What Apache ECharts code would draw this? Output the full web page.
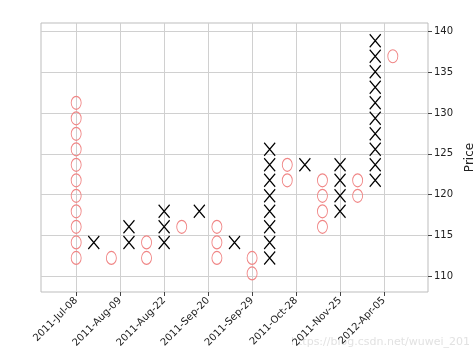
<!DOCTYPE html>
<html>
<head>
<meta charset="utf-8">
<script src="https://cdn.jsdelivr.net/npm/echarts@6/dist/echarts.min.js"></script>
<style>html,body{margin:0;padding:0;background:#fff}#c{width:474px;height:356px}</style>
</head>
<body>
<div id="c"></div>
<script>
// Point & figure columns (index = column position on x axis)
const columnKind = ['O','X','O','X','O','X','O','X','O','X','O','X','O','X','O','X','O','X','O'];
const columnValues = [
  [112.25,114.15,116.05,117.95,119.85,121.75,123.65,125.55,127.45,129.35,131.25],
  [114.15],
  [112.25],
  [114.15,116.05],
  [112.25,114.15],
  [114.15,116.05,117.95],
  [116.05],
  [117.95],
  [112.25,114.15,116.05],
  [114.15],
  [110.35,112.25],
  [112.25,114.15,116.05,117.95,119.85,121.75,123.65,125.55],
  [121.75,123.65],
  [123.65],
  [116.05,117.95,119.85,121.75],
  [117.95,119.85,121.75,123.65],
  [119.85,121.75],
  [121.75,123.65,125.55,127.45,129.35,131.25,133.15,135.05,136.95,138.85],
  [136.95]
];
const xTickPositions = [0, 2.5, 5, 7.5, 10, 12.5, 15, 17.5];
const xTickLabels = ['2011-Jul-08','2011-Aug-09','2011-Aug-22','2011-Sep-20','2011-Sep-29','2011-Oct-28','2011-Nov-25','2012-Apr-05'];
const yTicks = [110, 115, 120, 125, 130, 135, 140];

const xData = [], oData = [];
columnValues.forEach((vals, i) => {
  vals.forEach(v => {
    (columnKind[i] === 'X' ? xData : oData).push([i, v]);
  });
});

const chart = echarts.init(document.getElementById('c'), null, {renderer: 'canvas'});
const font = 'DejaVu Sans';
chart.setOption({
  animation: false,
  backgroundColor: '#fff',
  grid: {left: 41, right: 46, top: 23, bottom: 64, containLabel: false, outerBoundsMode: 'none',
         show: true, borderColor: '#bdbdbd', borderWidth: 1, backgroundColor: 'transparent'},
  xAxis: {
    type: 'value', min: -2, max: 20, position: 'bottom',
    axisLine: {show: false, onZero: false},
    axisTick: {show: true, customValues: xTickPositions, length: 4, lineStyle: {color: '#444'}},
    axisLabel: {
      customValues: xTickPositions, rotate: 45, fontFamily: font, fontSize: 10, color: '#222', margin: 7,
      formatter: v => { const i = xTickPositions.indexOf(v); return i >= 0 ? xTickLabels[i] : ''; }
    },
    splitLine: {show: true, lineStyle: {color: '#d0d0d0', width: 1}}
  },
  yAxis: {
    type: 'value', position: 'right', min: 108.07, max: 141.03,
    name: 'Price', nameLocation: 'middle', nameRotate: 90, nameGap: 32,
    nameTextStyle: {fontFamily: font, fontSize: 12, color: '#222'},
    axisLine: {show: false, onZero: false},
    axisTick: {show: true, customValues: yTicks, length: 4, lineStyle: {color: '#444'}},
    axisLabel: {customValues: yTicks, fontFamily: font, fontSize: 10, color: '#222', margin: 6},
    splitLine: {show: true, lineStyle: {color: '#d0d0d0', width: 1}}
  },
  series: [
    {
      type: 'scatter', data: xData,
      symbol: 'path://M0,0L10,12M10,0L0,12', symbolSize: [11, 13],
      itemStyle: {color: 'none', borderColor: '#000', borderWidth: 1.3, opacity: 1},
      emphasis: {disabled: true}, z: 3
    },
    {
      type: 'scatter', data: oData,
      symbol: 'circle', symbolSize: [10, 13],
      itemStyle: {color: 'none', borderColor: '#f08585', borderWidth: 1, opacity: 1},
      emphasis: {disabled: true}, z: 3
    }
  ],
  graphic: [{
    type: 'text', right: 4, bottom: 8,
    style: {text: 'https://blog.csdn.net/wuwei_201', fontFamily: font, fontSize: 11, fill: '#e2e2e2'}
  }]
});
</script>
</body>
</html>
